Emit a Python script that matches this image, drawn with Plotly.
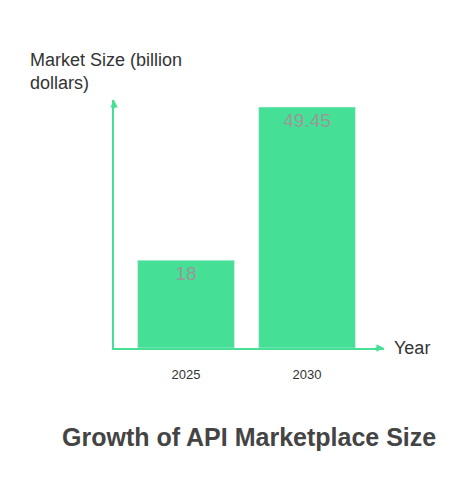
import plotly.graph_objects as go

years = ["2025", "2030"]
market_size = [18, 49.45]

green = "#45e096"

fig = go.Figure(
    go.Bar(
        x=years, y=market_size, marker_color=green, width=0.8,
        text=[str(v) for v in market_size], textposition="inside",
        insidetextanchor="end", textfont=dict(size=19, color="#999999"),
        cliponaxis=False,
    )
)

fig.update_layout(
    width=462, height=504, margin=dict(l=106, r=86, t=92, b=164),
    plot_bgcolor="white", paper_bgcolor="white", showlegend=False,
    font=dict(family="Liberation Sans, Arial", color="#333333"),
    xaxis=dict(type="category", range=[-0.595, 1.636], showline=True, linecolor=green,
               linewidth=1.5, ticks="", tickfont=dict(size=13, color="#333"), ticklabelstandoff=14),
    yaxis=dict(range=[0, 50.9], showline=True, linecolor=green, linewidth=1.5,
               showticklabels=False, showgrid=False, zeroline=False, ticks=""),
)

# arrow heads on the axes
fig.add_annotation(x=1, y=0, xref="paper", yref="paper", ax=-10, ay=0, axref="pixel", ayref="pixel",
                   showarrow=True, arrowhead=2, arrowcolor=green, arrowwidth=1.5, text="")
fig.add_annotation(x=0, y=1, xref="paper", yref="paper", ax=0, ay=10,
                   showarrow=True, arrowhead=2, arrowcolor=green, arrowwidth=1.5, text="")

fig.add_annotation(x=1.03, y=0, xref="paper", yref="paper", xanchor="left", yanchor="middle",
                   text="Year", showarrow=False, font=dict(size=18, color="#333"))
fig.add_annotation(x=-0.32, y=1.02, xref="paper", yref="paper", xanchor="left", yanchor="bottom",
                   align="left", text="Market Size (billion<br>dollars)", showarrow=False,
                   font=dict(size=18, color="#333"))
fig.add_annotation(x=0.5, y=-0.36, xref="paper", yref="paper", xanchor="center", yanchor="middle",
                   text="<b>Growth of API Marketplace Size</b>", showarrow=False,
                   font=dict(size=25, color="#444444"))

fig.write_html("out.html")
